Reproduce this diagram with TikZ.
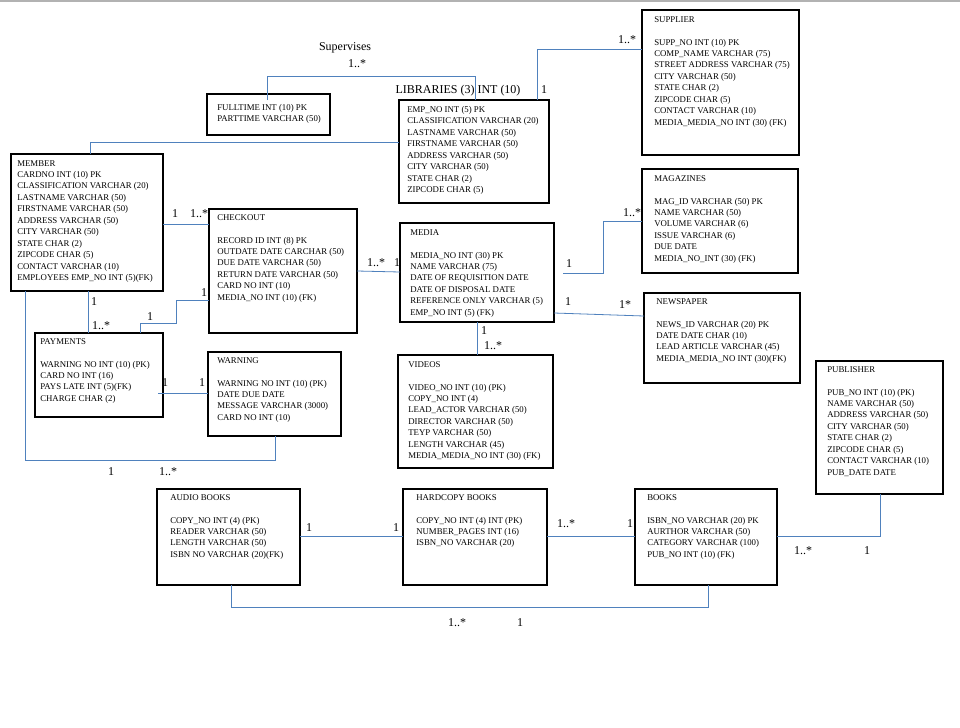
\documentclass[tikz,border=0pt]{standalone}
\usepackage{fontspec}
\setmainfont{Liberation Serif}
\begin{document}
\begin{tikzpicture}[x=0.75pt,y=-0.75pt,
 ent/.style={draw=black,line width=2.2pt},
 txt/.style={anchor=north west,align=left,inner sep=0pt,font=\fontsize{6.6}{8.6}\selectfont},
 lnk/.style={draw={rgb,255:red,79;green,129;blue,189},line width=0.6pt},
 lab/.style={inner sep=0pt,font=\fontsize{9}{10}\selectfont}]
\fill[white] (0,0) rectangle (960,728);
\useasboundingbox (0,0) rectangle (960,728);
\draw[gray!60,line width=1.5pt] (0,0.5) -- (960,0.5);
% boxes
\draw[ent] (207,94) rectangle (330,135); \coordinate (ft) at (207,94);
\node[txt] (ftT) at (217,104) {FULLTIME INT (10) PK\\PARTTIME VARCHAR (50)};
\draw[ent] (399,100) rectangle (549,203);
\node[txt] (empT) at (407,106) {EMP\_NO INT (5) PK\\CLASSIFICATION VARCHAR (20)\\LASTNAME VARCHAR (50)\\FIRSTNAME VARCHAR (50)\\ADDRESS VARCHAR (50)\\CITY VARCHAR (50)\\STATE CHAR (2)\\ZIPCODE CHAR (5)};
\draw[ent] (642,10) rectangle (799,155);
\node[txt] (supT) at (654,16) {SUPPLIER\\[8.6pt]SUPP\_NO INT (10) PK\\COMP\_NAME VARCHAR (75)\\STREET ADDRESS VARCHAR (75)\\CITY VARCHAR (50)\\STATE CHAR (2)\\ZIPCODE CHAR (5)\\CONTACT VARCHAR (10)\\MEDIA\_MEDIA\_NO INT (30) (FK)};
\draw[ent] (642,169) rectangle (798,273);
\node[txt] (magT) at (654,175) {MAGAZINES\\[8.6pt]MAG\_ID VARCHAR (50) PK\\NAME VARCHAR (50)\\VOLUME VARCHAR (6)\\ISSUE VARCHAR (6)\\DUE DATE\\MEDIA\_NO\_INT (30) (FK)};
\draw[ent] (11,154) rectangle (163,291);
\node[txt] (memT) at (17,160) {MEMBER\\CARDNO INT (10) PK\\CLASSIFICATION VARCHAR (20)\\LASTNAME VARCHAR (50)\\FIRSTNAME VARCHAR (50)\\ADDRESS VARCHAR (50)\\CITY VARCHAR (50)\\STATE CHAR (2)\\ZIPCODE CHAR (5)\\CONTACT VARCHAR (10)\\EMPLOYEES EMP\_NO INT (5)(FK)};
\draw[ent] (209,209) rectangle (357,333);
\node[txt] (chkT) at (217,214) {CHECKOUT\\[8.6pt]RECORD ID INT (8) PK\\OUTDATE DATE CARCHAR (50)\\DUE DATE VARCHAR (50)\\RETURN DATE VARCHAR (50)\\CARD NO INT (10)\\MEDIA\_NO INT (10) (FK)};
\draw[ent] (400,223) rectangle (554,322);
\node[txt] (medT) at (410,229) {MEDIA\\[8.6pt]MEDIA\_NO INT (30) PK\\NAME VARCHAR (75)\\DATE OF REQUISITION DATE\\DATE OF DISPOSAL DATE\\REFERENCE ONLY VARCHAR (5)\\EMP\_NO INT (5) (FK)};
\draw[ent] (644,293) rectangle (800,383);
\node[txt] (newT) at (656,298) {NEWSPAPER\\[8.6pt]NEWS\_ID VARCHAR (20) PK\\DATE DATE CHAR (10)\\LEAD ARTICLE VARCHAR (45)\\MEDIA\_MEDIA\_NO INT (30)(FK)};
\draw[ent] (35,333) rectangle (163,417);
\node[txt] (payT) at (40,338) {PAYMENTS\\[8.6pt]WARNING NO INT (10) (PK)\\CARD NO INT (16)\\PAYS LATE INT (5)(FK)\\CHARGE CHAR (2)};
\draw[ent] (208,352) rectangle (341,436);
\node[txt] (warT) at (217,357) {WARNING\\[8.6pt]WARNING NO INT (10) (PK)\\DATE DUE DATE\\MESSAGE VARCHAR (3000)\\CARD NO INT (10)};
\draw[ent] (398,355) rectangle (553,468);
\node[txt] (vidT) at (408,361) {VIDEOS\\[8.6pt]VIDEO\_NO INT (10) (PK)\\COPY\_NO INT (4)\\LEAD\_ACTOR VARCHAR (50)\\DIRECTOR VARCHAR (50)\\TEYP VARCHAR (50)\\LENGTH VARCHAR (45)\\MEDIA\_MEDIA\_NO INT (30) (FK)};
\draw[ent] (816,361) rectangle (943,494);
\node[txt] (pubT) at (827,366) {PUBLISHER\\[8.6pt]PUB\_NO INT (10) (PK)\\NAME VARCHAR (50)\\ADDRESS VARCHAR (50)\\CITY VARCHAR (50)\\STATE CHAR (2)\\ZIPCODE CHAR (5)\\CONTACT VARCHAR (10)\\PUB\_DATE DATE};
\draw[ent] (157,489) rectangle (300,585);
\node[txt] (audT) at (170,494) {AUDIO BOOKS\\[8.6pt]COPY\_NO INT (4) (PK)\\READER VARCHAR (50)\\LENGTH VARCHAR (50)\\ISBN NO VARCHAR (20)(FK)};
\draw[ent] (403,489) rectangle (547,585);
\node[txt] (hcT) at (416,494) {HARDCOPY BOOKS\\[8.6pt]COPY\_NO INT (4) INT (PK)\\NUMBER\_PAGES INT (16)\\ISBN\_NO VARCHAR (20)};
\draw[ent] (635,489) rectangle (777,585);
\node[txt] (bkT) at (647,494) {BOOKS\\[8.6pt]ISBN\_NO VARCHAR (20) PK\\AURTHOR VARCHAR (50)\\CATEGORY VARCHAR (100)\\PUB\_NO INT (10) (FK)};
% connectors
\draw[lnk] (267,100) |- (475,76) -- (475,100);
\draw[lnk] (537,100) |- (642,49);
\draw[lnk] (90,154) |- (399,142);
\draw[lnk] (163,224) -- (209,224);
\draw[lnk] (88,291) -- (88,333);
\draw[lnk] (140,333) |- (176,323) |- (209,300);
\draw[lnk] (158,393) -- (208,393);
\draw[lnk] (25,291) |- (275,460) -- (275,436);
\draw[lnk] (357,271) -- (400,272);
\draw[lnk] (563,273) -| (603,221) -- (642,221);
\draw[lnk] (554,313) -- (644,316);
\draw[lnk] (477,322) -- (477,355);
\draw[lnk] (300,536) -- (403,536);
\draw[lnk] (547,536) -- (635,536);
\draw[lnk] (777,536) -| (880,494);
\draw[lnk] (231,585) |- (708,607) -- (708,585);
% labels
\node[lab] (l1) at (345,48) {Supervises};
\node[lab] (l2) at (357,64) {1..*};
\node[lab] (l3) at (458,91) {LIBRARIES (3) INT (10)};
\node[lab] (l4) at (544,90) {1};
\node[lab] (l5) at (627,40) {1..*};
\node[lab] (l6) at (175,214) {1};
\node[lab] (l7) at (199,214) {1..*};
\node[lab] (l8) at (94,302) {1};
\node[lab] (l9) at (101,326) {1..*};
\node[lab] (l10) at (150,317) {1};
\node[lab] (l11) at (204,293) {1};
\node[lab] (l12) at (165,383) {1};
\node[lab] (l13) at (202,383) {1};
\node[lab] (l14) at (111,472) {1};
\node[lab] (l15) at (168,472) {1..*};
\node[lab] (l16) at (376,263) {1..*};
\node[lab] (l17) at (397,263) {1};
\node[lab] (l18) at (569,264) {1};
\node[lab] (l19) at (632,213) {1..*};
\node[lab] (l20) at (568,302) {1};
\node[lab] (l21) at (625,305) {1*};
\node[lab] (l22) at (484,331) {1};
\node[lab] (l23) at (493,346) {1..*};
\node[lab] (l24) at (309,528) {1};
\node[lab] (l25) at (396,528) {1};
\node[lab] (l26) at (566,524) {1..*};
\node[lab] (l27) at (630,524) {1};
\node[lab] (l28) at (803,551) {1..*};
\node[lab] (l29) at (867,551) {1};
\node[lab] (l30) at (457,623) {1..*};
\node[lab] (l31) at (520,623) {1};
\end{tikzpicture}
\end{document}
